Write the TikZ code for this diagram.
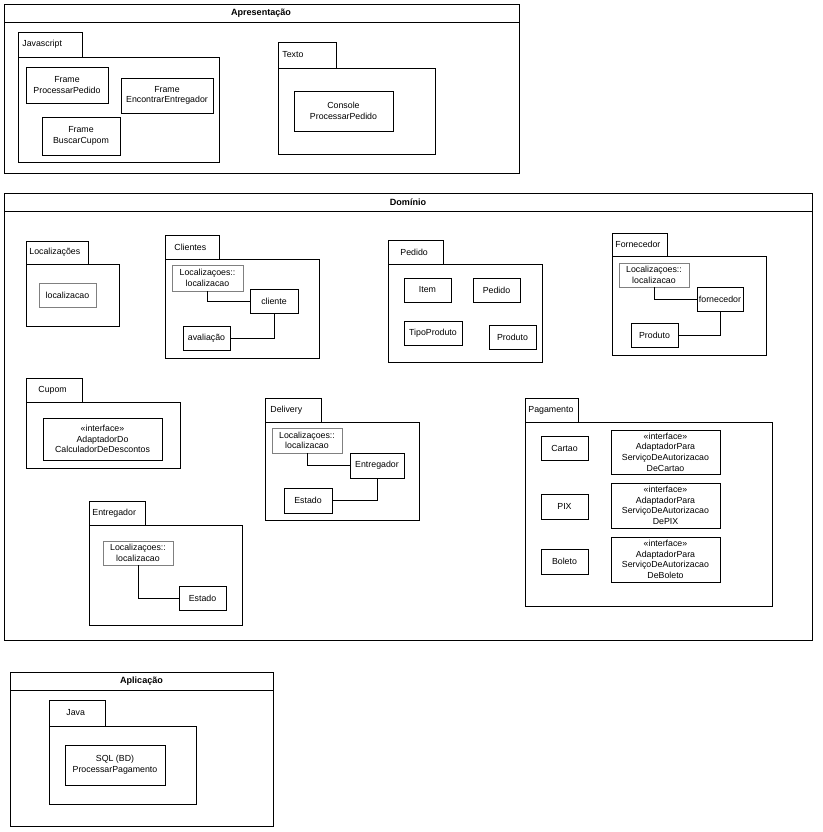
\documentclass[tikz,border=0pt]{standalone}
\usepackage{fontspec}
\setmainfont{Liberation Sans}
\usetikzlibrary{fit}
\newcommand\bx[6][]{\node[draw,fit={(#3,#4)(#5,#6)},inner sep=0pt,#1] (#2) {};\node[lbl] at (#2.center) {#2txt};}
\newcommand\rb[7][]{\node[draw,fit={(#3,#4)(#5,#6)},inner sep=0pt,#1] (#2) {};\node[lbl] at (#2.center) {#7};}
\newcommand\pkg[7]{\rb{#1tab}{#2}{#3}{#4}{#5}{}\node[lbl,anchor=west] at ($(#2,#3)!0.5!(#2,#5)+(3,0)$) {#7};\rb{#1}{#2}{#5}{#6}{#6}{}}
\usetikzlibrary{calc}
\begin{document}
\begin{tikzpicture}[x=0.75pt,y=-0.75pt,line width=0.6pt,
  lbl/.style={font=\fontsize{6.6}{8}\selectfont,align=center,inner sep=0pt},
  ttl/.style={font=\fontsize{6.8}{8}\selectfont\bfseries,inner sep=0pt}]
\useasboundingbox (0,0) rectangle (823,832);
% Apresentacao
\rb{apr}{4}{4}{519}{173}{}
\draw (4,22) -- (519,22);
\node[ttl] (aprt) at (261,13) {Apresentação};
\rb{jstab}{18}{32}{82}{57}{}\node[lbl,anchor=west] (jst) at (22,44.5) {Javascript};
\rb{js}{18}{57}{219}{162}{}
\rb{fpp}{26}{67}{108}{103}{Frame\\ProcessarPedido}
\rb{fee}{121}{78}{213}{113}{Frame\\EncontrarEntregador}
\rb{fbc}{42}{117}{120}{155}{Frame\\BuscarCupom}
\rb{txtab}{278}{42}{336}{68}{}\node[lbl,anchor=west] (txt) at (282,55) {Texto};
\rb{tx}{278}{68}{435}{154}{}
\rb{cpp}{294}{91}{393}{131}{Console\\ProcessarPedido}
% Dominio
\rb{dom}{4}{193}{812}{640}{}
\draw (4,211) -- (812,211);
\node[ttl] (domt) at (408,202) {Domínio};
% Localizacoes
\rb{lotab}{26}{241}{88}{264}{}\node[lbl,anchor=west] (lot) at (29,252.5) {Localizações};
\rb{lo}{26}{264}{119}{326}{}
\rb[draw=gray]{loc}{39}{283}{96}{307}{localizacao}
% Clientes
\rb{cltab}{165}{235}{219}{259}{}\node[lbl,anchor=west] (clt) at (174,247) {Clientes};
\rb{cl}{165}{259}{319}{358}{}
\rb[draw=gray]{clloc}{172}{265}{243}{291}{Localizaçoes::\\localizacao}
\rb{cli}{250}{289}{298}{313}{cliente}
\rb{clav}{183}{326}{230}{350}{avaliação}
\draw (clloc.south) |- (cli.west);
\draw (cli.south) |- (clav.east);
% Pedido
\rb{petab}{388}{240}{443}{264}{}\node[lbl,anchor=west] (pet) at (400,252) {Pedido};
\rb{pe}{388}{264}{542}{362}{}
\rb{item}{404}{278}{451}{302}{Item}
\rb{ped}{473}{278}{520}{302}{Pedido}
\rb{tp}{404}{321}{462}{345}{TipoProduto}
\rb{prod}{489}{325}{536}{349}{Produto}
% Fornecedor
\rb{fotab}{612}{233}{667}{256}{}\node[lbl,anchor=west] (fot) at (615,244.5) {Fornecedor};
\rb{fo}{612}{256}{766}{355}{}
\rb[draw=gray]{foloc}{619}{263}{689}{287}{Localizaçoes::\\localizacao}
\rb{forn}{697}{287}{743}{311}{fornecedor}
\rb{foprod}{631}{323}{678}{347}{Produto}
\draw (foloc.south) |- (forn.west);
\draw (forn.south) |- (foprod.east);
% Cupom
\rb{cutab}{26}{378}{82}{402}{}\node[lbl,anchor=west] (cut) at (38,390) {Cupom};
\rb{cu}{26}{402}{180}{468}{}
\rb{cuif}{43}{418}{162}{460}{<<interface>>\\AdaptadorDo\\CalculadorDeDescontos}
% Delivery
\rb{detab}{265}{398}{321}{422}{}\node[lbl,anchor=west] (det) at (270,410) {Delivery};
\rb{de}{265}{422}{419}{520}{}
\rb[draw=gray]{deloc}{272}{428}{342}{453}{Localizaçoes::\\localizacao}
\rb{deen}{350}{453}{404}{478}{Entregador}
\rb{dees}{284}{488}{332}{513}{Estado}
\draw (deloc.south) |- (deen.west);
\draw (deen.south) |- (dees.east);
% Entregador
\rb{entab}{89}{501}{145}{525}{}\node[lbl,anchor=west] (ent) at (92,513) {Entregador};
\rb{en}{89}{525}{242}{625}{}
\rb[draw=gray]{enloc}{103}{541}{173}{565}{Localizaçoes::\\localizacao}
\rb{enes}{179}{586}{226}{610}{Estado}
\draw (enloc.south) |- (enes.west);
% Pagamento
\rb{patab}{525}{398}{578}{422}{}\node[lbl,anchor=west] (pat) at (528,410) {Pagamento};
\rb{pa}{525}{422}{772}{606}{}
\rb{car}{541}{436}{588}{460}{Cartao}
\rb{carif}{611}{430}{720}{474}{<<interface>>\\AdaptadorPara\\ServiçoDeAutorizacao\\DeCartao}
\rb{pix}{541}{494}{588}{519}{PIX}
\rb{pixif}{611}{483}{720}{528}{<<interface>>\\AdaptadorPara\\ServiçoDeAutorizacao\\DePIX}
\rb{bol}{541}{549}{588}{574}{Boleto}
\rb{bolif}{611}{537}{720}{582}{<<interface>>\\AdaptadorPara\\ServiçoDeAutorizacao\\DeBoleto}
% Aplicacao
\rb{apl}{10}{672}{273}{826}{}
\draw (10,690) -- (273,690);
\node[ttl] (aplt) at (141.5,681) {Aplicação};
\rb{jvtab}{49}{700}{105}{726}{}\node[lbl,anchor=west] (jvt) at (66,713) {Java};
\rb{jv}{49}{726}{196}{804}{}
\rb{sql}{65}{745}{165}{785}{SQL (BD)\\ProcessarPagamento}
\end{tikzpicture}
\end{document}
